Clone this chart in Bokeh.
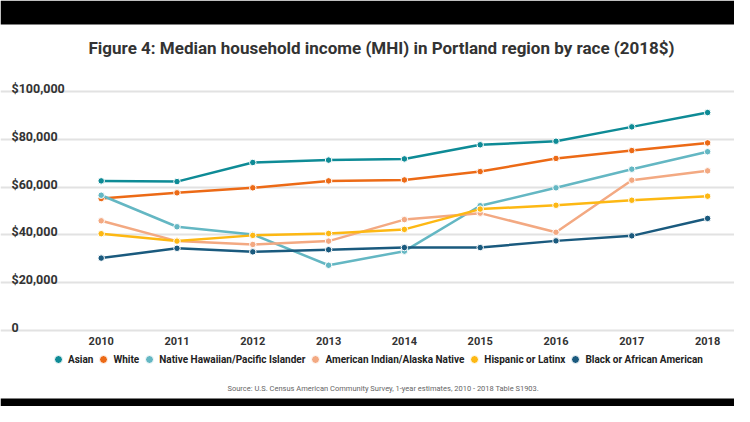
from bokeh.plotting import figure
from bokeh.models import (ColumnDataSource, FixedTicker, Legend, LegendItem,
                          Label, BoxAnnotation, Range1d)
from bokeh.core.properties import value
from bokeh.embed import file_html
from bokeh.resources import INLINE

years = [2010, 2011, 2012, 2013, 2014, 2015, 2016, 2017, 2018]
year_labels = ["2010", "2011", "2012", "2013", "2014", "2015", "2016", "2017", "2018"]
series_names = ["Asian", "White", "Native Hawaiian/Pacific Islander",
                "American Indian/Alaska Native", "Hispanic or Latinx",
                "Black or African American"]
asian = [62600, 62300, 70300, 71300, 71800, 77700, 79200, 85200, 91200]
white = [55200, 57600, 59700, 62600, 63000, 66500, 72000, 75300, 78500]
nhpi = [56600, 43400, 40200, 27300, 33200, 52200, 59700, 67500, 74800]
aian = [45900, 37400, 36000, 37400, 46400, 49100, 41100, 62900, 66800]
hispanic = [40500, 37400, 39800, 40600, 42300, 50800, 52400, 54500, 56200]
black = [30300, 34400, 32900, 33800, 34700, 34700, 37500, 39600, 46900]
colors = ["#0e8b96", "#ec6a16", "#64b7c3", "#f3a982", "#fdb813", "#1a5a7e"]
y_ticks = [0, 20000, 40000, 60000, 80000, 100000]
y_tick_labels = ["0", "$20,000", "$40,000", "$60,000", "$80,000", "$100,000"]
title_text = "Figure 4: Median household income (MHI) in Portland region by race (2018$)"
source_text = "Source: U.S. Census American Community Survey, 1-year estimates, 2010 - 2018 Table S1903."

FONT = "Roboto"
X0, X1 = 2008.6715, 2018.3549
Y0, Y1 = -31799, 138075

p = figure(width=734, height=406, output_backend="svg", toolbar_location=None,
           x_range=Range1d(X0, X1), y_range=Range1d(Y0, Y1),
           min_border=0)
p.outline_line_color = None
p.background_fill_color = "white"
p.border_fill_color = "white"

p.xaxis.visible = False
p.yaxis.visible = False
p.xgrid.visible = False
p.ygrid.ticker = FixedTicker(ticks=y_ticks)
p.ygrid.grid_line_color = "#e2e2e2"
p.ygrid.grid_line_width = 2

# y tick labels above gridlines
p.text(x=[2008.8166] * len(y_ticks), y=y_ticks, text=y_tick_labels,
       text_font=value(FONT), text_font_style="bold", text_font_size="12.5px",
       text_color="#333333", text_align="left", text_baseline="alphabetic",
       y_offset=-3)

# x tick labels below the zero line
p.text(x=years, y=[0] * len(years), text=year_labels,
       text_font=value(FONT), text_font_style="bold", text_font_size="11px",
       text_color="#333333", text_align="center", text_baseline="middle",
       y_offset=10)

all_series = [asian, white, nhpi, aian, hispanic, black]
items = []
for name, vals, col in zip(series_names, all_series, colors):
    src = ColumnDataSource(dict(x=years, y=vals))
    p.line("x", "y", source=src, line_color=col, line_width=2.5)
    r = p.scatter("x", "y", source=src, size=6.5, fill_color=col,
                  line_color="white", line_width=1)
    items.append(LegendItem(label=name, renderers=[r]))

legend = Legend(items=items, orientation="horizontal", location=(48, 37),
                glyph_width=20, glyph_height=20, label_standoff=0, spacing=0,
                padding=0, margin=0, border_line_color=None,
                background_fill_alpha=0,
                label_text_font=FONT, label_text_font_style="bold",
                label_text_font_size="10px", label_text_color="#222222")
p.add_layout(legend, "center")

p.add_layout(Label(x=381, y=359, x_units="screen", y_units="screen",
                   text=title_text, text_align="center", text_baseline="middle",
                   text_font=FONT, text_font_style="bold", text_font_size="17px",
                   text_color="#333333"))
p.add_layout(Label(x=382.7, y=17.7, x_units="screen", y_units="screen",
                   text=source_text, text_align="center", text_baseline="middle",
                   text_font=FONT, text_font_size="7.5px", text_color="#666666"))

p.add_layout(BoxAnnotation(left=0, right=734, top=406, bottom=382,
                           left_units="screen", right_units="screen",
                           top_units="screen", bottom_units="screen",
                           fill_color="black", fill_alpha=1, line_color=None))
p.add_layout(BoxAnnotation(left=0, right=734, top=8, bottom=0,
                           left_units="screen", right_units="screen",
                           top_units="screen", bottom_units="screen",
                           fill_color="black", fill_alpha=1, line_color=None))

open("out.html", "w").write(file_html(p, INLINE))
